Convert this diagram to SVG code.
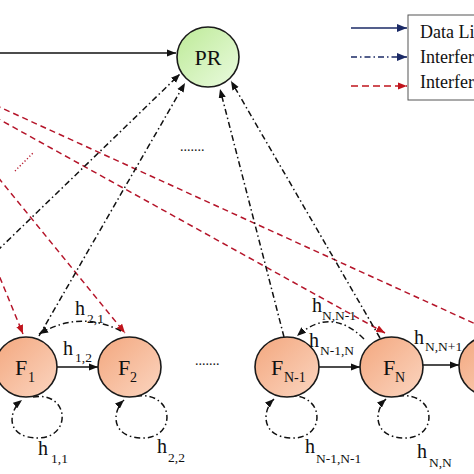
<svg xmlns="http://www.w3.org/2000/svg" width="474" height="474" viewBox="0 0 474 474">
<style>
.node{stroke:#1a1a1a;stroke-width:1.6}
.lbl{font-family:"Liberation Serif","Times New Roman",serif;fill:#111}
.nt{font-size:22px}
.ns{font-size:14px}
.h{font-size:20px}
.s{font-size:13.5px}
.solid{stroke:#111;stroke-width:1.6;fill:none}
.dd{stroke:#111;stroke-width:1.5;fill:none;stroke-dasharray:6 3 1.5 3}
.red{stroke:#b5152a;stroke-width:1.5;fill:none;stroke-dasharray:6 4}
.dots{font-family:"Liberation Serif","Times New Roman",serif;font-size:14px;fill:#111}
</style>
<defs>
<linearGradient id="gF" x1="0" y1="0" x2="1" y2="1">
<stop offset="0" stop-color="#f3a77e"/>
<stop offset="1" stop-color="#fbd5c0"/>
</linearGradient>
<linearGradient id="gP" x1="0" y1="0" x2="1" y2="1">
<stop offset="0" stop-color="#bdea97"/>
<stop offset="1" stop-color="#eafbdf"/>
</linearGradient>
<marker id="ak" viewBox="0 0 10 8" refX="10" refY="4" markerWidth="9" markerHeight="7.5" markerUnits="userSpaceOnUse" orient="auto"><path d="M0,0 L10,4 L0,8 z" fill="#111"/></marker>
<marker id="ar" viewBox="0 0 10 8" refX="10" refY="4" markerWidth="9" markerHeight="8" markerUnits="userSpaceOnUse" orient="auto"><path d="M0,0 L10,4 L0,8 z" fill="#c0141c"/></marker>
<marker id="an" viewBox="0 0 10 8" refX="10" refY="4" markerWidth="10" markerHeight="8" markerUnits="userSpaceOnUse" orient="auto"><path d="M0,0 L10,4 L0,8 z" fill="#1b2a66"/></marker>
</defs>
<rect width="474" height="474" fill="#fff"/>

<g id="connectors">
<path class="red" d="M-5 105 L480 326"/>
<path class="red" d="M-5 117 L385 333" marker-end="url(#ar)"/>
<path class="red" d="M-8 170 L125 333" marker-end="url(#ar)"/>
<path class="red" d="M-4 268 L23 334" marker-end="url(#ar)"/>
<path d="M15 171 L33 153" stroke="#b5152a" stroke-width="1.4" stroke-dasharray="1.2 2.2" fill="none"/>
<path class="solid" d="M-2 53 L176 53" marker-end="url(#ak)"/>
<path class="dd" d="M-3 251 L180 74" marker-end="url(#ak)"/>
<path class="dd" d="M39 336 L185 83" marker-end="url(#ak)"/>
<path class="dd" d="M284 337 L220 89" marker-end="url(#ak)"/>
<path class="dd" d="M380 338 L231 81" marker-end="url(#ak)"/>
<path class="solid" d="M57 367 L98 367" marker-end="url(#ak)"/>
<path class="solid" d="M319 367 L360 367" marker-end="url(#ak)"/>
<path class="solid" d="M423 365 L459 365" marker-end="url(#ak)"/>
<path class="dd" d="M121 331 Q80 310 39 334" marker-end="url(#ak)"/>
<path class="dd" d="M364 339 Q331 306 297 336" marker-end="url(#ak)"/>
<path class="dd" d="M33 397 C70 391 72 438 38 438 C5 438 8 411 22 400" marker-end="url(#ak)"/>
<path class="dd" d="M136 396 C175 391 177 438 143 438 C110 438 112 411 124 400" marker-end="url(#ak)"/>
<path class="dd" d="M286 396 C325 391 327 438 293 438 C260 438 262 410 274 399" marker-end="url(#ak)"/>
<path class="dd" d="M398 396 C437 391 439 438 405 438 C372 438 374 410 386 399" marker-end="url(#ak)"/>
</g>

<g id="PR">
<ellipse class="node" cx="208" cy="57" rx="31" ry="30" fill="url(#gP)"/>
<text class="lbl nt" x="208" y="65" text-anchor="middle">PR</text>
</g>
<g id="F1">
<ellipse class="node" cx="26" cy="367" rx="31" ry="30" fill="url(#gF)"/>
<text class="lbl nt" x="15" y="375">F<tspan class="ns" x="28" y="382">1</tspan></text>
</g>
<g id="F2">
<ellipse class="node" cx="129.5" cy="367" rx="31.5" ry="30" fill="url(#gF)"/>
<text class="lbl nt" x="118" y="375">F<tspan class="ns" x="130" y="382">2</tspan></text>
</g>
<g id="FN-1">
<ellipse class="node" cx="287" cy="367" rx="32" ry="30" fill="url(#gF)"/>
<text class="lbl nt" x="271" y="375">F<tspan class="ns" x="284" y="382">N-1</tspan></text>
</g>
<g id="FN">
<ellipse class="node" cx="391.5" cy="367" rx="31.5" ry="30" fill="url(#gF)"/>
<text class="lbl nt" x="383" y="375">F<tspan class="ns" x="395" y="382">N</tspan></text>
</g>
<g id="FN+1">
<ellipse class="node" cx="490" cy="366" rx="31" ry="30" fill="url(#gF)"/>
</g>

<g id="labels">
<text class="lbl h" x="63" y="355">h<tspan class="s" x="75" y="362">1,2</tspan></text>
<text class="lbl h" x="75" y="315">h<tspan class="s" x="87" y="323">2,1</tspan></text>
<text class="lbl h" x="38" y="455">h<tspan class="s" x="51" y="463">1,1</tspan></text>
<text class="lbl h" x="157" y="453">h<tspan class="s" x="168" y="462">2,2</tspan></text>
<text class="lbl h" x="312" y="312">h<tspan class="s" x="322" y="320">N,N-1</tspan></text>
<text class="lbl h" x="309" y="347">h<tspan class="s" x="320" y="355">N-1,N</tspan></text>
<text class="lbl h" x="414" y="344">h<tspan class="s" x="425" y="351">N,N+1</tspan></text>
<text class="lbl h" x="305" y="453">h<tspan class="s" x="316" y="463">N-1,N-1</tspan></text>
<text class="lbl h" x="417" y="458">h<tspan class="s" x="429" y="467">N,N</tspan></text>
<text class="dots" x="180" y="151">.......</text>
<text class="dots" x="195" y="365">.......</text>
</g>

<g id="legend">
<rect x="408" y="15" width="80" height="85" fill="#fff" stroke="#555" stroke-width="1"/>
<path d="M351 28 L407 28" stroke="#1b2a66" stroke-width="1.6" fill="none" marker-end="url(#an)"/>
<path d="M351 57 L407 57" stroke="#1b2a66" stroke-width="1.6" fill="none" stroke-dasharray="6 3 1.5 3" marker-end="url(#an)"/>
<path d="M351 86 L407 86" stroke="#c0141c" stroke-width="1.6" fill="none" stroke-dasharray="7 4" marker-end="url(#ar)"/>
<text class="lbl" font-size="18" x="420" y="38">Data Link</text>
<text class="lbl" font-size="18" x="420" y="63">Interference</text>
<text class="lbl" font-size="18" x="420" y="88">Interference</text>
</g>
</svg>
